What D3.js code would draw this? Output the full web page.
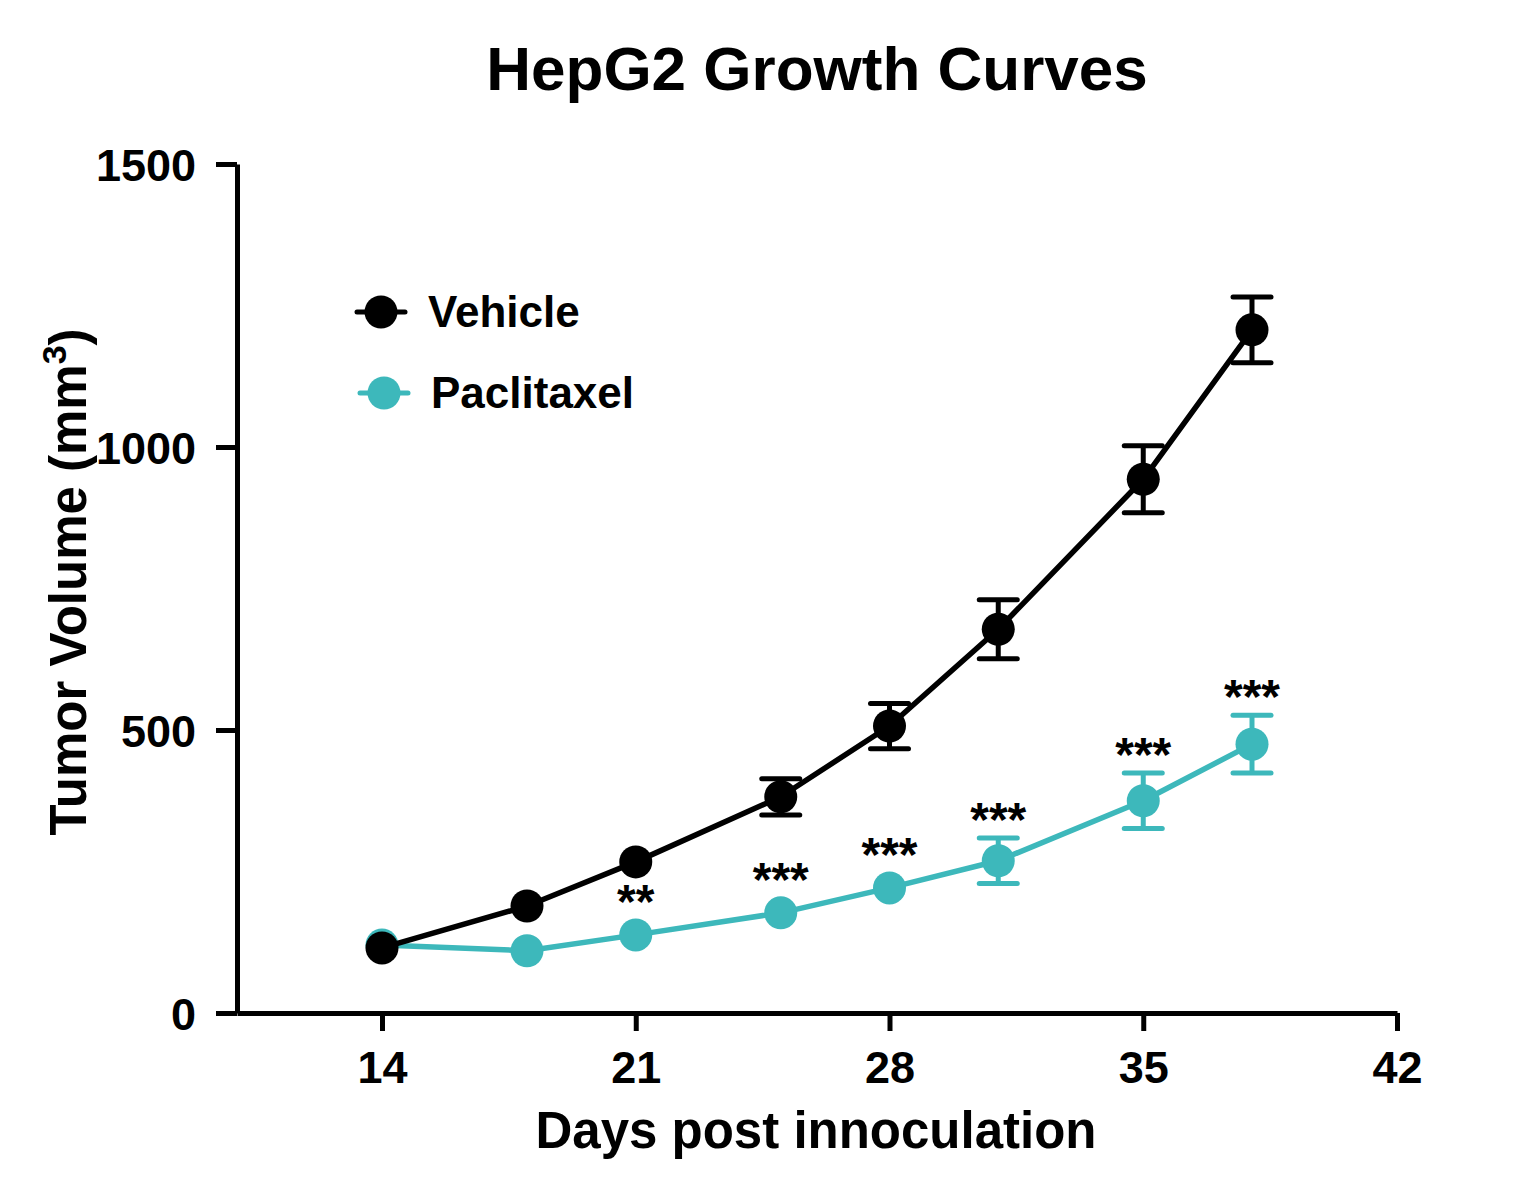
<!DOCTYPE html>
<html>
<head>
<meta charset="utf-8">
<script src="https://cdn.jsdelivr.net/npm/d3@7"></script>
<style>
  body { margin: 0; background: #fff; }
  text { font-family: "Liberation Sans", Arial, sans-serif; font-weight: bold; fill: #000; }
</style>
</head>
<body>
<div id="chart"></div>
<script>
var days = [14, 18, 21, 25, 28, 31, 35, 38];
var vehicleMean = [115, 189, 267, 382, 507, 678, 943, 1207];
var vehicleErr = [0, 0, 0, 32, 40, 52, 59, 58];
var paclitaxelMean = [120, 110, 138, 177, 221, 269, 375, 475];
var paclitaxelErr = [0, 0, 0, 0, 0, 40, 49, 51];
var stars = ["", "", "**", "***", "***", "***", "***", "***"];
var xTicks = [14, 21, 28, 35, 42];
var yTicks = [0, 500, 1000, 1500];

var teal = "#3db8bb";

var svg = d3.select("#chart").append("svg")
    .attr("width", 1536)
    .attr("height", 1193);

var x = d3.scaleLinear().domain([10, 42]).range([237, 1397]);
var y = d3.scaleLinear().domain([0, 1500]).range([1013, 164]);

// title
svg.append("text")
    .text("HepG2 Growth Curves")
    .attr("x", 817)
    .attr("y", 90)
    .attr("text-anchor", "middle")
    .style("font-size", "62px");

// axes
var xAxis = d3.axisBottom(x).tickValues(xTicks).tickSize(18).tickPadding(20).tickSizeOuter(0);
var gx = svg.append("g")
    .attr("transform", "translate(0,1013)")
    .call(xAxis);
gx.selectAll("text").style("font-size", "45px").attr("dy", "0.71em");

var yAxis = d3.axisLeft(y).tickValues(yTicks).tickFormat(d3.format("d"))
    .tickSize(21).tickPadding(20).tickSizeOuter(0);
var gy = svg.append("g")
    .attr("transform", "translate(237,0)")
    .call(yAxis);
gy.selectAll("text").style("font-size", "45px").attr("dy", "0.36em");

svg.selectAll(".domain, .tick line")
    .attr("stroke", "#000")
    .attr("stroke-width", 5);
svg.selectAll(".tick text").attr("fill", "#000");

// axis titles
svg.append("text")
    .text("Days post innoculation")
    .attr("x", 816)
    .attr("y", 1148)
    .attr("text-anchor", "middle")
    .style("font-size", "51px");

var yl = svg.append("text")
    .attr("transform", "translate(86,582) rotate(-90)")
    .attr("text-anchor", "middle")
    .style("font-size", "51px");
yl.append("tspan").text("Tumor Volume (mm");
yl.append("tspan").text("3").attr("dy", -20).style("font-size", "34px");
yl.append("tspan").text(")").attr("dy", 20);

// series
var series = [
    { name: "Vehicle", mean: vehicleMean, err: vehicleErr, color: "#000" },
    { name: "Paclitaxel", mean: paclitaxelMean, err: paclitaxelErr, color: teal }
];

var line = d3.line()
    .x(function (d) { return x(d.day); })
    .y(function (d) { return y(d.mean); });

// draw paclitaxel first so vehicle sits on top (as in the day 14 overlap)
series.slice().reverse().forEach(function (s) {
    var pts = days.map(function (d, i) { return { day: d, mean: s.mean[i], err: s.err[i] }; });
    var g = svg.append("g");

    g.append("path")
        .datum(pts)
        .attr("fill", "none")
        .attr("stroke", s.color)
        .attr("stroke-width", 5.5)
        .attr("stroke-linejoin", "round")
        .attr("d", line);

    var eb = g.selectAll(".err").data(pts.filter(function (d) { return d.err > 0; }))
        .enter().append("g");
    eb.append("line")
        .attr("x1", function (d) { return x(d.day); })
        .attr("x2", function (d) { return x(d.day); })
        .attr("y1", function (d) { return y(d.mean - d.err); })
        .attr("y2", function (d) { return y(d.mean + d.err); })
        .attr("stroke", s.color).attr("stroke-width", 5);
    [-1, 1].forEach(function (sign) {
        eb.append("line")
            .attr("x1", function (d) { return x(d.day) - 19; })
            .attr("x2", function (d) { return x(d.day) + 19; })
            .attr("y1", function (d) { return y(d.mean + sign * d.err); })
            .attr("y2", function (d) { return y(d.mean + sign * d.err); })
            .attr("stroke", s.color).attr("stroke-width", 5)
            .attr("stroke-linecap", "round");
    });

    g.selectAll("circle").data(pts).enter().append("circle")
        .attr("cx", function (d) { return x(d.day); })
        .attr("cy", function (d) { return y(d.mean); })
        .attr("r", 16.5)
        .attr("fill", s.color);
});

// significance stars
svg.selectAll(".star")
    .data(days.map(function (d, i) { return { day: d, top: paclitaxelMean[i] + paclitaxelErr[i], s: stars[i] }; }))
    .enter().append("text")
    .attr("class", "star")
    .text(function (d) { return d.s; })
    .attr("x", function (d) { return x(d.day); })
    .attr("y", function (d) { return y(d.top) - (d.top > 300 ? 2 : 17); })
    .attr("text-anchor", "middle")
    .style("font-size", "48px");

// legend
var legend = svg.append("g");
series.forEach(function (s, i) {
    var ly = 312 + i * 81;
    var lx = 381 + i * 3;
    legend.append("line")
        .attr("x1", lx - 24).attr("x2", lx + 24)
        .attr("y1", ly).attr("y2", ly)
        .attr("stroke", s.color).attr("stroke-width", 5)
        .attr("stroke-linecap", "round");
    legend.append("circle")
        .attr("cx", lx).attr("cy", ly).attr("r", 16.5)
        .attr("fill", s.color);
    legend.append("text")
        .text(s.name)
        .attr("x", lx + 47)
        .attr("y", ly + 15)
        .style("font-size", "44px");
});
</script>
</body>
</html>
